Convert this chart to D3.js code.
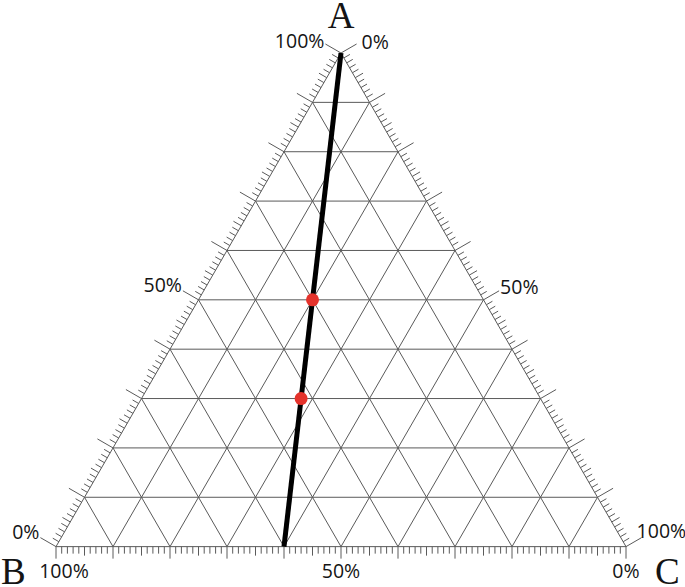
<!DOCTYPE html>
<html>
<head>
<meta charset="utf-8">
<script src="https://cdn.jsdelivr.net/npm/d3@7"></script>
<style>
    html, body { margin: 0; padding: 0; background: #fff; }
    #vis { width: 685px; height: 587px; }
    text { font-family: "Open Sans", sans-serif; fill: #141414; }
    .corner { font-family: "Liberation Serif", "DejaVu Serif", serif; }
</style>
</head>
<body>
<div id="vis"></div>
<script>
// ternary compositions in percent: a = A, b = B, c = C
var gridValues = [10, 20, 30, 40, 50, 60, 70, 80, 90];
var tickValues = d3.range(0, 101, 1);
var labelValues = [0, 50, 100];
var lineEnds = [{a: 100, b: 0, c: 0}, {a: 0, b: 60, c: 40}];
var points = [{a: 50, b: 30, c: 20}, {a: 30, b: 42, c: 28}];
var corners = ['A', 'B', 'C'];

var width = 685,
    height = 587;

var margin = {
    top: 53,
    bottom: 40,
    left: 56,
    right: 59
};

var side = width - margin.left - margin.right;
var tri_h = side * Math.sqrt(3) / 2;

var svg = d3.select('#vis')
    .append('svg')
    .attr('width', width)
    .attr('height', height);

// x: horizontal position in fractions of the base, y: A share
var x_scale = d3.scaleLinear()
    .domain([0, 1])
    .range([margin.left, margin.left + side]);

var y_scale = d3.scaleLinear()
    .domain([0, 100])
    .range([margin.top + tri_h, margin.top]);

function px(d) {
    return x_scale(d.c / 100 + d.a / 200);
}
function py(d) {
    return y_scale(d.a);
}

var grid_colour = '#5a5a5a';

// grid lines, one family per component
var grid = svg.append('g').attr('class', 'grid');
gridValues.forEach(function (v) {
    var segs = [
        [{a: v, b: 100 - v, c: 0}, {a: v, b: 0, c: 100 - v}],
        [{a: 100 - v, b: v, c: 0}, {a: 0, b: v, c: 100 - v}],
        [{a: 100 - v, b: 0, c: v}, {a: 0, b: 100 - v, c: v}]
    ];
    segs.forEach(function (s) {
        grid.append('line')
            .attr('x1', px(s[0])).attr('y1', py(s[0]))
            .attr('x2', px(s[1])).attr('y2', py(s[1]))
            .attr('stroke', grid_colour)
            .attr('stroke-width', 1);
    });
});

// triangle outline
var A = {a: 100, b: 0, c: 0}, B = {a: 0, b: 100, c: 0}, C = {a: 0, b: 0, c: 100};
svg.append('path')
    .attr('d', 'M' + px(A) + ',' + py(A) + 'L' + px(B) + ',' + py(B) + 'L' + px(C) + ',' + py(C) + 'Z')
    .attr('fill', 'none')
    .attr('stroke', grid_colour)
    .attr('stroke-width', 1);

// axes: left = A (100% at apex), right = C (100% at C), bottom = B (100% at B)
var axes = [
    {pos: function (v) { return {a: v, b: 100 - v, c: 0}; }, dir: [-Math.sqrt(3) / 2, -0.5], major: 18, anchor: 'end', dx: -1, dy: 1},
    {pos: function (v) { return {a: 100 - v, b: 0, c: v}; }, dir: [Math.sqrt(3) / 2, -0.5], major: 18, anchor: 'start', dx: 1, dy: 3},
    {pos: function (v) { return {a: 0, b: v, c: 100 - v}; }, dir: [0, 1], major: 12, anchor: 'middle', dx: 0, dy: 19}
];

var ticks = svg.append('g').attr('class', 'ticks');
axes.forEach(function (ax, i) {
    tickValues.forEach(function (v) {
        var p = ax.pos(v);
        var len = v % 10 === 0 ? ax.major : (v % 5 === 0 ? 9 : 7);
        var x0 = px(p), y0 = py(p);
        ticks.append('line')
            .attr('x1', x0).attr('y1', y0)
            .attr('x2', x0 + ax.dir[0] * len).attr('y2', y0 + ax.dir[1] * len)
            .attr('stroke', grid_colour)
            .attr('stroke-width', 1);
    });
    labelValues.forEach(function (v) {
        var p = ax.pos(v);
        var tx = px(p) + ax.dir[0] * ax.major + ax.dx;
        var ty = py(p) + ax.dir[1] * ax.major + ax.dy;
        if (i === 2 && v === 100) tx += 8;
        if (i === 1 && v === 100) { tx -= 6; ty -= 3; }
        if (i === 1 && v === 0) { tx += 4; ty += 2; }
        if (i === 0 && v === 100) { ty += 3; }
        ticks.append('text')
            .attr('x', tx)
            .attr('y', ty)
            .attr('text-anchor', ax.anchor)
            .attr('font-size', 19.5)
            .text(v + '%');
    });
});

// the black line
svg.append('line')
    .attr('x1', px(lineEnds[0])).attr('y1', py(lineEnds[0]))
    .attr('x2', px(lineEnds[1])).attr('y2', py(lineEnds[1]))
    .attr('stroke', '#000')
    .attr('stroke-width', 5);

svg.selectAll('.pt')
    .data(points)
    .enter()
    .append('circle')
    .attr('class', 'pt')
    .attr('cx', px)
    .attr('cy', py)
    .attr('r', 6.5)
    .attr('fill', '#e4322b');

// corner letters
svg.append('text').attr('class', 'corner')
    .attr('x', px(A)).attr('y', py(A) - 25)
    .attr('text-anchor', 'middle').attr('font-size', 37).text(corners[0]);
svg.append('text').attr('class', 'corner')
    .attr('x', px(B) - 55).attr('y', py(B) + 37)
    .attr('text-anchor', 'start').attr('font-size', 37).text(corners[1]);
svg.append('text').attr('class', 'corner')
    .attr('x', px(C) + 29).attr('y', py(C) + 37)
    .attr('text-anchor', 'start').attr('font-size', 37).text(corners[2]);
</script>
</body>
</html>
